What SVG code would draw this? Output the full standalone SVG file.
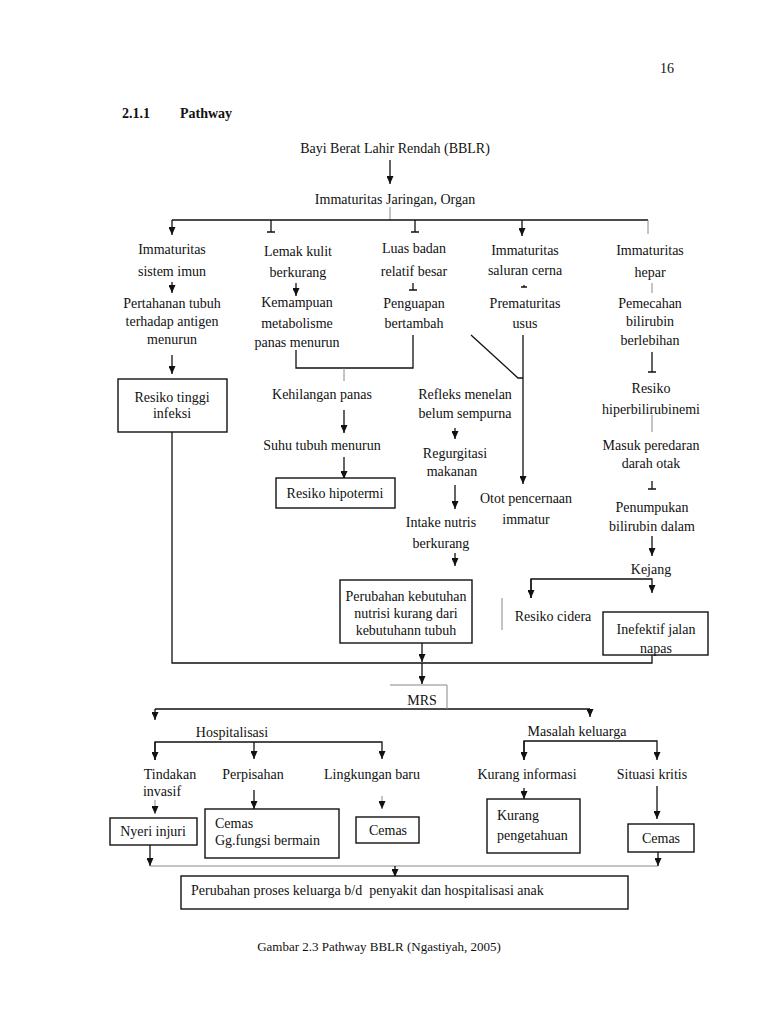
<svg xmlns="http://www.w3.org/2000/svg" width="768" height="1024" viewBox="0 0 768 1024">
<style>
text{font-family:"Liberation Serif","Times New Roman",serif;font-size:14px;fill:#111}
.m{text-anchor:middle}
.b{font-weight:bold}
.c{stroke:#111;stroke-width:1.3;fill:none}
.g{stroke:#888;stroke-width:1;fill:none}
.box{fill:#fff;stroke:#111;stroke-width:1.4}
</style>
<defs>
<marker id="a" markerUnits="userSpaceOnUse" markerWidth="8" markerHeight="7" refX="8" refY="3.5" orient="auto"><path d="M0,0 L8,3.5 L0,7 z" fill="#111"/></marker>
</defs>
<rect width="768" height="1024" fill="#fff"/>
<text x="660" y="73">16</text>
<text x="122" y="118" class="b">2.1.1</text>
<text x="180" y="118" class="b">Pathway</text>

<g id="connectors">
<path class="c" d="M390,160 V184" marker-end="url(#a)"/>
<path class="g" d="M390,207 V220"/>
<path class="c" d="M172,220 H648"/>
<path class="c" d="M172,220 V235" marker-end="url(#a)"/>
<path class="c" d="M271,220 V232 M267,232 H275"/>
<path class="c" d="M415,220 V232 M411,232 H419"/>
<path class="c" d="M522,220 V236" marker-end="url(#a)" stroke-width="2"/>
<path class="g" d="M648,220 V234"/>
<path class="c" d="M172,282 V293" marker-end="url(#a)"/>
<path class="c" d="M172,355 V374" marker-end="url(#a)"/>
<path class="c" d="M296,283 V296" marker-end="url(#a)"/>
<path class="c" d="M413,283 V290 M409,290 H417"/>
<path class="c" d="M296,350 V368 H413 V335"/>
<path class="g" d="M344,368 V381"/>
<path class="c" d="M344,410 V433" marker-end="url(#a)"/>
<path class="c" d="M344,457 V479" marker-end="url(#a)"/>
<path class="c" d="M524,285 V287 M521,287 H527"/>
<path class="c" d="M523,335 V484" marker-end="url(#a)" stroke-width="1.6"/>
<path class="c" d="M471,335 L518,378 H523"/>
<path class="c" d="M455,428 V439" marker-end="url(#a)"/>
<path class="c" d="M455,485 V509" marker-end="url(#a)" stroke-width="1.6"/>
<path class="c" d="M455,553 V566" marker-end="url(#a)"/>
<path class="g" d="M652,283 V293"/>
<path class="c" d="M652,352 V372 M648,372 H656"/>
<path class="g" d="M652,415 V432"/>
<path class="c" d="M652,481 V489 M648,489 H656"/>
<path class="c" d="M652,536 V556" marker-end="url(#a)" stroke-width="1.6"/>
<path class="c" d="M531,598 V579 H652 V593" marker-end="url(#a)"/>
<path class="c" d="M531,579 V598" marker-end="url(#a)"/>
<path class="c" d="M172,432 V663 H652 V655"/>
<path class="c" d="M422,643 V662" marker-end="url(#a)"/>
<path class="c" d="M422,663 V684" marker-end="url(#a)"/>
<path class="c" d="M155,709 H590"/>
<path class="c" d="M155,709 V720" marker-end="url(#a)"/>
<path class="c" d="M590,709 V717" marker-end="url(#a)"/>
<path class="c" d="M155,760 V742 H382 V759" marker-end="url(#a)"/>
<path class="c" d="M155,742 V760" marker-end="url(#a)"/>
<path class="c" d="M254,742 V759" marker-end="url(#a)"/>
<path class="c" d="M524,760 V741 H657 V760" marker-end="url(#a)"/>
<path class="c" d="M524,741 V760" marker-end="url(#a)"/>
<path class="g" d="M155,800 V814" marker-end="url(#a)"/>
<path class="c" d="M254,790 V809" marker-end="url(#a)"/>
<path class="g" d="M382,796 V809" marker-end="url(#a)"/>
<path class="c" d="M524,788 V799" marker-end="url(#a)"/>
<path class="c" d="M657,786 V819" marker-end="url(#a)"/>
<path class="c" d="M150,845 V866" marker-end="url(#a)"/>
<path class="g" d="M150,866 H658"/>
<path class="c" d="M658,852 V866" marker-end="url(#a)"/>
<path class="c" d="M395,866 V877" marker-end="url(#a)"/>
<path class="g" d="M502,598 V630"/>
</g>

<g id="n-bblr"><text x="395" y="153" class="m">Bayi Berat Lahir Rendah (BBLR)</text></g>
<g id="n-immaturitas"><text x="395" y="204" class="m">Immaturitas Jaringan, Organ</text></g>

<g id="n-imun"><text x="172" y="254" class="m">Immaturitas</text><text x="172" y="276" class="m">sistem imun</text></g>
<g id="n-pertahanan"><text x="172" y="308" class="m">Pertahanan tubuh</text><text x="172" y="326" class="m">terhadap antigen</text><text x="172" y="344" class="m">menurun</text></g>
<g id="n-infeksi"><rect class="box" x="118" y="379" width="109" height="53"/><text x="172" y="402" class="m">Resiko tinggi</text><text x="172" y="418" class="m">infeksi</text></g>

<g id="n-lemak"><text x="298" y="256" class="m">Lemak kulit</text><text x="298" y="277" class="m">berkurang</text></g>
<g id="n-kemampuan"><text x="297" y="307" class="m">Kemampuan</text><text x="297" y="328" class="m">metabolisme</text><text x="297" y="347" class="m">panas menurun</text></g>

<g id="n-luas"><text x="414" y="253" class="m">Luas badan</text><text x="414" y="276" class="m">relatif besar</text></g>
<g id="n-penguapan"><text x="414" y="308" class="m">Penguapan</text><text x="414" y="328" class="m">bertambah</text></g>

<g id="n-kehilangan"><text x="322" y="399" class="m">Kehilangan panas</text></g>
<g id="n-suhu"><text x="322" y="450" class="m">Suhu tubuh menurun</text></g>
<g id="n-hipotermi"><rect class="box" x="276" y="478" width="119" height="30"/><text x="335" y="498" class="m">Resiko hipotermi</text></g>

<g id="n-cerna"><text x="525" y="255" class="m">Immaturitas</text><text x="525" y="275" class="m">saluran cerna</text></g>
<g id="n-usus"><text x="525" y="308" class="m">Prematuritas</text><text x="525" y="328" class="m">usus</text></g>
<g id="n-refleks"><text x="465" y="399" class="m">Refleks menelan</text><text x="465" y="418" class="m">belum sempurna</text></g>
<g id="n-regurgitasi"><text x="455" y="458" class="m">Regurgitasi</text><text x="452" y="476" class="m">makanan</text></g>
<g id="n-intake"><text x="441" y="527" class="m">Intake nutris</text><text x="441" y="548" class="m">berkurang</text></g>
<g id="n-otot"><text x="526" y="503" class="m">Otot pencernaan</text><text x="526" y="524" class="m">immatur</text></g>
<g id="n-nutrisi"><rect class="box" x="340" y="580" width="132" height="63"/><text x="406" y="601" class="m">Perubahan kebutuhan</text><text x="406" y="618" class="m">nutrisi kurang dari</text><text x="406" y="635" class="m">kebutuhann tubuh</text></g>

<g id="n-hepar"><text x="650" y="255" class="m">Immaturitas</text><text x="650" y="277" class="m">hepar</text></g>
<g id="n-pemecahan"><text x="650" y="308" class="m">Pemecahan</text><text x="650" y="326" class="m">bilirubin</text><text x="650" y="345" class="m">berlebihan</text></g>
<g id="n-resiko-hiper"><text x="651" y="393" class="m">Resiko</text><text x="651" y="414" class="m">hiperbilirubinemi</text></g>
<g id="n-masuk"><text x="651" y="450" class="m">Masuk peredaran</text><text x="651" y="468" class="m">darah otak</text></g>
<g id="n-penumpukan"><text x="652" y="512" class="m">Penumpukan</text><text x="652" y="531" class="m">bilirubin dalam</text></g>
<g id="n-kejang"><text x="651" y="574" class="m">Kejang</text></g>
<g id="n-cidera"><text x="553" y="621" class="m">Resiko cidera</text></g>
<g id="n-napas"><rect class="box" x="603" y="612" width="105" height="43"/><text x="656" y="634" class="m">Inefektif jalan</text><text x="656" y="653" class="m">napas</text></g>

<g id="n-mrs"><path class="g" d="M390,685 H447 V709"/><text x="422" y="705" class="m">MRS</text></g>
<g id="n-hospitalisasi"><text x="232" y="737" class="m">Hospitalisasi</text></g>
<g id="n-masalah"><text x="577" y="736" class="m">Masalah keluarga</text></g>

<g id="n-tindakan"><text x="170" y="779" class="m">Tindakan</text><text x="162" y="796" class="m">invasif</text></g>
<g id="n-perpisahan"><text x="253" y="779" class="m">Perpisahan</text></g>
<g id="n-lingkungan"><text x="372" y="779" class="m">Lingkungan baru</text></g>
<g id="n-kurang-info"><text x="527" y="779" class="m">Kurang informasi</text></g>
<g id="n-situasi"><text x="652" y="779" class="m">Situasi kritis</text></g>

<g id="n-nyeri"><rect class="box" x="110" y="818" width="87" height="27"/><text x="153" y="836" class="m">Nyeri injuri</text></g>
<g id="n-cemas1"><rect class="box" x="205" y="809" width="134" height="49"/><text x="215" y="828">Cemas</text><text x="215" y="845">Gg.fungsi bermain</text></g>
<g id="n-cemas2"><rect class="box" x="356" y="817" width="63" height="26"/><text x="388" y="835" class="m">Cemas</text></g>
<g id="n-pengetahuan"><rect class="box" x="487" y="799" width="93" height="54"/><text x="497" y="820">Kurang</text><text x="497" y="840">pengetahuan</text></g>
<g id="n-cemas3"><rect class="box" x="628" y="824" width="66" height="28"/><text x="661" y="843" class="m">Cemas</text></g>

<g id="n-perubahan-proses"><rect class="box" x="181" y="876" width="447" height="33"/><text x="191" y="895" xml:space="preserve">Perubahan proses keluarga b/d  penyakit dan hospitalisasi anak</text></g>

<text x="379" y="951" class="m" style="font-size:13px">Gambar 2.3 Pathway BBLR (Ngastiyah, 2005)</text>
</svg>
